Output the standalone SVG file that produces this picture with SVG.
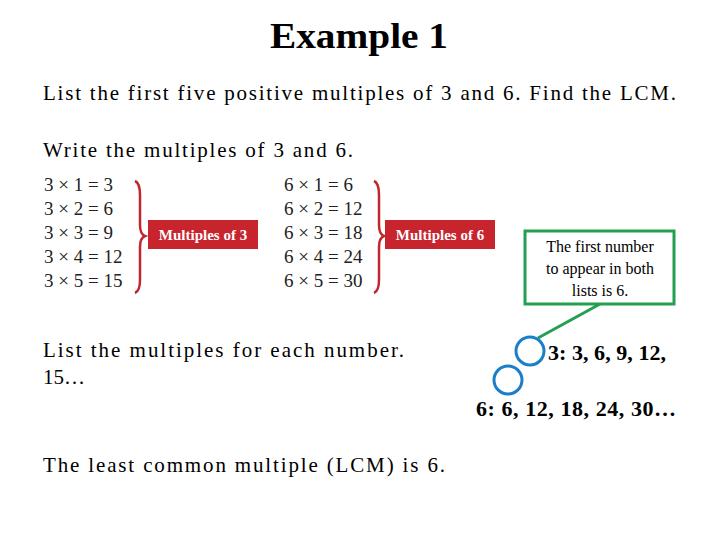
<svg xmlns="http://www.w3.org/2000/svg" width="720" height="540" viewBox="0 0 720 540">
<style>
.t{font-family:"Liberation Serif",serif;fill:#000}
.m{font-family:"Liberation Serif",serif;font-size:19px;fill:#222}
.lab{font-family:"Liberation Serif",serif;font-size:15px;font-weight:bold;fill:#fff}
.br{fill:none;stroke:#c0282e;stroke-width:2.5}
.b{font-family:"Liberation Serif",serif;font-size:22px;font-weight:bold;fill:#000}
.c{fill:none;stroke:#1a7fc8;stroke-width:3}
</style>
<rect width="720" height="540" fill="#fff"/>
<text class="t" x="270" y="48" font-size="36" font-weight="bold" textLength="178" lengthAdjust="spacingAndGlyphs">Example 1</text>
<text class="t" x="43" y="100" font-size="21" textLength="633">List the first five positive multiples of 3 and 6.  Find the LCM.</text>
<text class="t" x="43" y="157" font-size="21" textLength="310">Write the multiples of 3 and 6.</text>
<g id="list3">
<text class="m" x="44" y="191">3 × 1 = 3</text>
<text class="m" x="44" y="215">3 × 2 = 6</text>
<text class="m" x="44" y="239">3 × 3 = 9</text>
<text class="m" x="44" y="263">3 × 4 = 12</text>
<text class="m" x="44" y="287">3 × 5 = 15</text>
<path class="br" d="M135,181 Q140,183 140,195 L140,225 Q140,234 145,236 Q140,238 140,247 L140,280 Q140,291 135,293"/>
<rect x="148" y="220" width="110" height="29" fill="#c8242d"/>
<text class="lab" x="203" y="240" text-anchor="middle">Multiples of 3</text>
</g>
<g id="list6">
<text class="m" x="284" y="191">6 × 1 = 6</text>
<text class="m" x="284" y="215">6 × 2 = 12</text>
<text class="m" x="284" y="239">6 × 3 = 18</text>
<text class="m" x="284" y="263">6 × 4 = 24</text>
<text class="m" x="284" y="287">6 × 5 = 30</text>
<path class="br" d="M374,181 Q379,183 379,195 L379,225 Q379,234 384,236 Q379,238 379,247 L379,280 Q379,291 374,293"/>
<rect x="385" y="220" width="110" height="29" fill="#c8242d"/>
<text class="lab" x="440" y="240" text-anchor="middle">Multiples of 6</text>
</g>
<g id="callout">
<rect x="525" y="231" width="149" height="73" fill="#fff" stroke="#22a050" stroke-width="3"/>
<text class="t" font-size="16" text-anchor="middle"><tspan x="600" y="252">The first number</tspan><tspan x="600" y="274">to appear in both</tspan><tspan x="600" y="296">lists is 6.</tspan></text>
</g>
<g id="connectors">
<line x1="600" y1="304" x2="538" y2="338" stroke="#22a050" stroke-width="3"/>
</g>
<g id="circles">
<circle class="c" cx="530" cy="351" r="14"/>
<circle class="c" cx="508" cy="380" r="14"/>
</g>
<text class="t" x="43" y="357" font-size="21" textLength="361">List the multiples for each number.</text>
<text class="t" x="43" y="384" font-size="21">15…</text>
<text class="b" x="548" y="360" textLength="118">3: 3, 6, 9, 12,</text>
<text class="b" x="476" y="416" textLength="200">6: 6, 12, 18, 24, 30…</text>
<text class="t" x="43" y="472" font-size="21" textLength="402">The least common multiple (LCM) is 6.</text>
</svg>
